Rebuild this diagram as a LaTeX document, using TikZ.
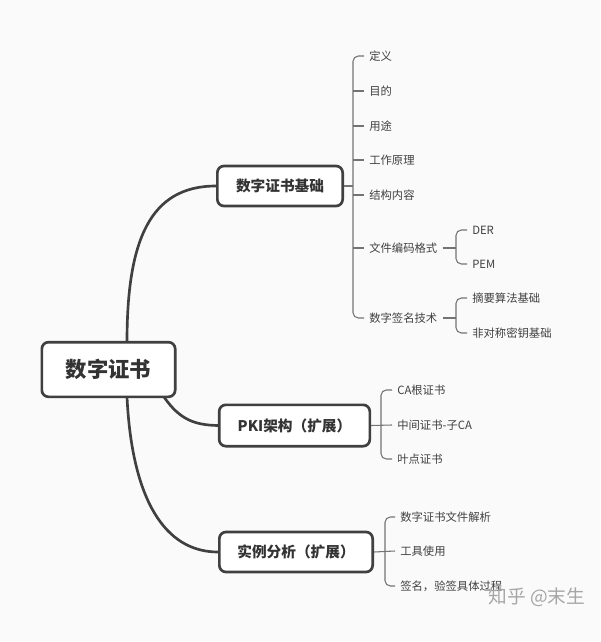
\documentclass[tikz,border=0pt]{standalone}
\usepackage{fontspec}
\setmainfont{Noto Sans CJK SC}
\usetikzlibrary{calc}
\begin{document}
\begin{tikzpicture}[x=0.75pt,y=-0.75pt,
  box/.style={draw=black!75,line width=2pt,rounded corners=5pt,fill=white,inner sep=0pt,font=\bfseries\fontsize{11}{13}\selectfont,text=black!80},
  leaf/.style={anchor=west,inner sep=0pt,font=\fontsize{8.5}{10}\selectfont,text=black!75},
  conn/.style={draw=black!75,line width=2pt},
  br/.style={draw=black!55,line width=0.8pt,rounded corners=4pt}]
\fill[black!2] (0,0) rectangle (600,642);
\useasboundingbox (0,0) rectangle (600,642);
\node[box,minimum width=100pt,minimum height=41pt,font=\bfseries\fontsize{16}{18}\selectfont] (root) at (108.5,369.5) {数字证书};
\node[box,minimum width=94pt,minimum height=30pt] (basic) at (280,186) {数字证书基础};
\node[box,minimum width=113pt,minimum height=31pt] (pki) at (294.5,425.5) {PKI架构（扩展）};
\node[box,minimum width=115pt,minimum height=30pt] (ex) at (296,552) {实例分析（扩展）};
\coordinate (r1) at (127,342);
\coordinate (r2) at (164,397);
\coordinate (r3) at (127,397);
\draw[conn] (r1) .. controls (127,240) and (150,186) .. (basic.west);
\draw[conn] (r2) .. controls (180,420) and (195,425) .. (pki.west);
\draw[conn] (r3) .. controls (132,500) and (165,552) .. (ex.west);
% basic leaves
\foreach \n/\y/\t in {a1/56/定义,a2/91/目的,a3/126/用途,a4/160/工作原理,a5/195/结构内容,a6/248/文件编码格式,a7/318/数字签名技术}
  \node[leaf] (\n) at (369,\y) {\t};
\draw[br] ($(a1.west)+(-5,0)$) -- (353,56) -- (353,318) -- ($(a7.west)+(-5,0)$);
\foreach \n in {a2,a3,a4,a5,a6} \draw[br] (353,0 |- \n.west) -- ($(\n.west)+(-5,0)$);
\draw[br] (basic.east) -- (353,186);
% sub leaves
\node[leaf] (d1) at (472,230) {DER};
\node[leaf] (d2) at (472,264) {PEM};
\node[leaf] (s1) at (472,298) {摘要算法基础};
\node[leaf] (s2) at (472,333) {非对称密钥基础};
\draw[br] ($(d1.west)+(-5,0)$) -- (456,230) -- (456,264) -- ($(d2.west)+(-5,0)$);
\draw[br] ($(a6.east)+(5,0)$) -- (456,248);
\draw[br] ($(s1.west)+(-5,0)$) -- (456,298) -- (456,333) -- ($(s2.west)+(-5,0)$);
\draw[br] ($(a7.east)+(5,0)$) -- (456,318);
% PKI leaves
\node[leaf] (p1) at (397,390) {CA根证书};
\node[leaf] (p2) at (397,425) {中间证书-子CA};
\node[leaf] (p3) at (397,459) {叶点证书};
\draw[br] ($(p1.west)+(-5,0)$) -- (381,390) -- (381,459) -- ($(p3.west)+(-5,0)$);
\draw[br] (pki.east) -- ($(p2.west)+(-5,0)$);
% example leaves
\node[leaf] (e1) at (400,517) {数字证书文件解析};
\node[leaf] (e2) at (400,551) {工具使用};
\node[leaf] (e3) at (400,586) {签名，验签具体过程};
\draw[br] ($(e1.west)+(-5,0)$) -- (385,517) -- (385,586) -- ($(e3.west)+(-5,0)$);
\draw[br] (ex.east) -- ($(e2.west)+(-5,0)$);
\node[text=black!35,font=\fontsize{14}{16}\selectfont,inner sep=0pt] (wm) at (537,597) {知乎 @末生};
\end{tikzpicture}
\end{document}
